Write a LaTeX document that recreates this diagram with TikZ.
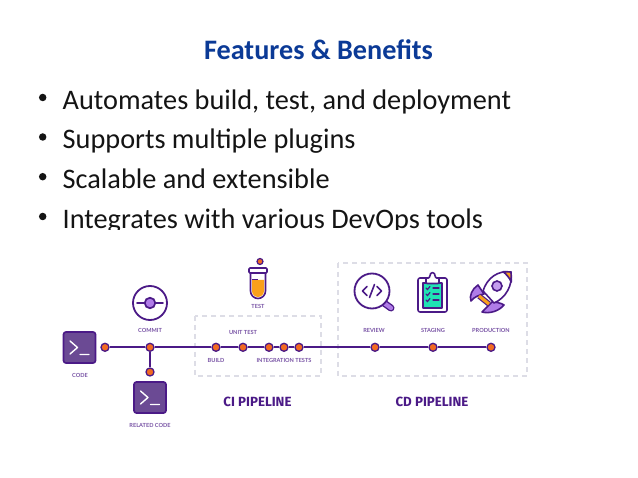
\documentclass[tikz,border=0pt]{standalone}
\usepackage{fontspec}
\setmainfont{Carlito}
\newfontfamily\lab{Lato}
\newfontfamily\pipe{Fira Sans}
\definecolor{pp}{HTML}{4B1A87}
\definecolor{ppm}{HTML}{6B4A94}
\definecolor{ppl}{HTML}{B07CE8}
\definecolor{org}{HTML}{F26A21}
\definecolor{amber}{HTML}{F9A01B}
\definecolor{teal}{HTML}{1FE3B4}
\definecolor{dashc}{HTML}{DDDDE6}
\definecolor{titleblue}{HTML}{0B3A96}
\tikzset{
  x=1pt,y=-1pt,
  bullettext/.style={anchor=base west,inner sep=0,font=\fontsize{28.3}{30}\selectfont,text=black!92},
  bulletdot/.style={circle,fill=black!92,inner sep=0,minimum size=7.5pt},
  lbl/.style={inner sep=0,font=\lab\bfseries\fontsize{5.6}{7}\selectfont,text=pp!75},
  pipelbl/.style={inner sep=0,font=\pipe\bfseries\fontsize{13.3}{15}\selectfont,text=pp},
  stop/.style={circle,draw=pp,fill=org,line width=1.3pt,inner sep=0,minimum size=8pt},
  wire/.style={draw=pp,line width=1.9pt},
  group/.style={draw=dashc,line width=1.4pt,dash pattern=on 5pt off 4pt},
  term/.style={draw=pp,fill=ppm,rounded corners=2.5pt,line width=1.7pt,inner sep=0,minimum width=32pt,minimum height=31pt},
  icon/.style={draw=pp,line width=1.6pt,line join=round,line cap=round},
  prompt/.style={draw=white,line width=1.4pt,line cap=round,line join=round}
}
\begin{document}
\begin{tikzpicture}
\useasboundingbox (0,0) rectangle (638,478);
\fill[white] (0,0) rectangle (638,478);

\node[anchor=base,inner sep=0,font=\bfseries\fontsize{28.2}{30}\selectfont,text=titleblue] (title) at (318.5,59.3) {Features \& Benefits};

\begin{scope}
\clip (0,0) rectangle (638,229.5);
\node[bulletdot] (b1) at (42.7,97.5) {};
\node[bulletdot] (b2) at (42.7,137) {};
\node[bulletdot] (b3) at (42.7,176.7) {};
\node[bulletdot] (b4) at (42.7,216.5) {};
\node[bullettext] (t1) at (62.5,109.5) {Automates build, test, and deployment};
\node[bullettext] (t2) at (62.5,149) {Supports multiple plugins};
\node[bullettext] (t3) at (62.5,188.7) {Scalable and extensible};
\node[bullettext] (t4) at (62.5,228.5) {Integrates with various DevOps tools};
\end{scope}

% pipeline groups
\draw[group] (195,316) rectangle (321,376);
\draw[group] (338,263) rectangle (527,376);

% stops
\node[stop] (s0) at (105,347.3) {};
\node[stop] (s1) at (150,347.3) {};
\node[stop] (s2) at (216,347.3) {};
\node[stop] (s3) at (243,347.3) {};
\node[stop] (s4) at (269,347.3) {};
\node[stop] (s5) at (284,347.3) {};
\node[stop] (s6) at (299,347.3) {};
\node[stop] (s7) at (375,347.3) {};
\node[stop] (s8) at (433,347.3) {};
\node[stop] (s9) at (491,347.3) {};
\node[stop] (s10) at (150,372) {};
\draw[wire] (s0)--(s1);\draw[wire] (s1)--(s2);\draw[wire] (s2)--(s3);\draw[wire] (s3)--(s4);
\draw[wire] (s4)--(s5);\draw[wire] (s5)--(s6);\draw[wire] (s6)--(s7);\draw[wire] (s7)--(s8);
\draw[wire] (s8)--(s9);\draw[wire] (s1)--(s10);

% terminal icons
\node[term] (code) at (79.5,347.5) {};
\draw[prompt] (70,341)--(77.5,347.5)--(70,354) (80,354.5)--(89,354.5);
\node[term] (related) at (150,397.5) {};
\draw[prompt] (140.5,391)--(148,397.5)--(140.5,404) (150.5,404.5)--(159.5,404.5);

% commit icon
\node[circle,draw=pp,line width=1.8pt,inner sep=0,minimum size=34pt] (commit) at (150,303) {};
\node[circle,draw=pp,fill=ppl,line width=1.7pt,inner sep=0,minimum size=10.5pt] (commitdot) at (150,303) {};
\draw[icon] (137,303)--(commitdot) (commitdot)--(163,303);

% test tube
\draw[icon,fill=white] (250.5,273) -- (250.5,291) arc[start angle=180,end angle=0,radius=7.5] -- (265.5,273);
\fill[amber] (252,280) -- (252,291) arc[start angle=180,end angle=0,radius=6] -- (264,280) -- cycle;
\draw[pp,line width=1pt] (252,280)--(258,280);
\draw[icon,fill=white,rounded corners=1pt] (249,268) rectangle (267,273);
\node[circle,draw=pp,fill=org,line width=1.2pt,inner sep=0,minimum size=6pt] (bubble) at (260,261.5) {};

% review icon
\draw[pp,line width=7pt,line cap=round] (384,303)--(391,308);
\draw[ppl,line width=4.2pt,line cap=round] (384,303)--(391,308);
\node[circle,draw=pp,line width=1.8pt,fill=white,inner sep=0,minimum size=35pt] (review) at (372,291) {};
\draw[icon,line width=1.6pt] (367,286.5)--(362.5,291)--(367,295.5) (377,286.5)--(381.5,291)--(377,295.5) (374.5,284.5)--(369.5,297.5);

% clipboard icon
\draw[icon,fill=white,rounded corners=2pt] (418,278) rectangle (447,312);
\draw[icon,fill=teal] (423,283) rectangle (442,308);
\draw[icon,fill=white,rounded corners=1pt] (426,283.5) -- (426,278) -- (429.5,278) .. controls (430,271) and (435,271) .. (435.5,278) -- (439,278) -- (439,283.5) -- cycle;
\foreach \yy in {288,294,300}{
  \draw[pp,line width=1.2pt,line cap=round] (426,\yy)--(427.5,\yy+1.5)--(430,\yy-1.5);
  \draw[pp,line width=1.2pt,line cap=round] (433,\yy)--(439,\yy);
}

% rocket icon
\draw[icon,fill=ppl] (478,285) .. controls (472,289) and (469,296) .. (471,301) .. controls (474,297) and (479,295) .. (484,294) -- cycle;
\draw[icon,fill=ppl] (482,312) .. controls (490,314) and (499,311) .. (504,305) .. controls (501,303) and (496,302) .. (492,302) -- cycle;
\draw[pp,line width=5.5pt] (479,296)--(489,304);
\draw[amber,line width=3.2pt] (479,296)--(489,304);
\draw[icon,fill=white] (511,272) .. controls (498,270) and (487,278) .. (483,291) -- (494,303) .. controls (506,298) and (513,285) .. (511,272) -- cycle;
\draw[icon,fill=amber] (503,271.7) -- (511,272) -- (511.3,282) .. controls (509,277) and (506,274) .. (503,271.7) -- cycle;
\node[circle,draw=pp,fill=ppl!75,line width=1.6pt,inner sep=0,minimum size=10pt] (window) at (497,286) {};

% labels
\node[lbl] (l1) at (258,306.5) {TEST};
\node[lbl] (l2) at (150,330) {COMMIT};
\node[lbl] (l3) at (243,332.5) {UNIT TEST};
\node[lbl] (l4) at (216,360) {BUILD};
\node[lbl] (l5) at (284,360) {INTEGRATION TESTS};
\node[lbl] (l6) at (80,375.5) {CODE};
\node[lbl] (l7) at (150,425) {RELATED CODE};
\node[lbl] (l8) at (374,330) {REVIEW};
\node[lbl] (l9) at (433,330) {STAGING};
\node[lbl] (l10) at (491,330) {PRODUCTION};
\node[pipelbl] (ci) at (257.5,401.5) {CI PIPELINE};
\node[pipelbl] (cd) at (432,401.5) {CD PIPELINE};
\end{tikzpicture}
\end{document}
